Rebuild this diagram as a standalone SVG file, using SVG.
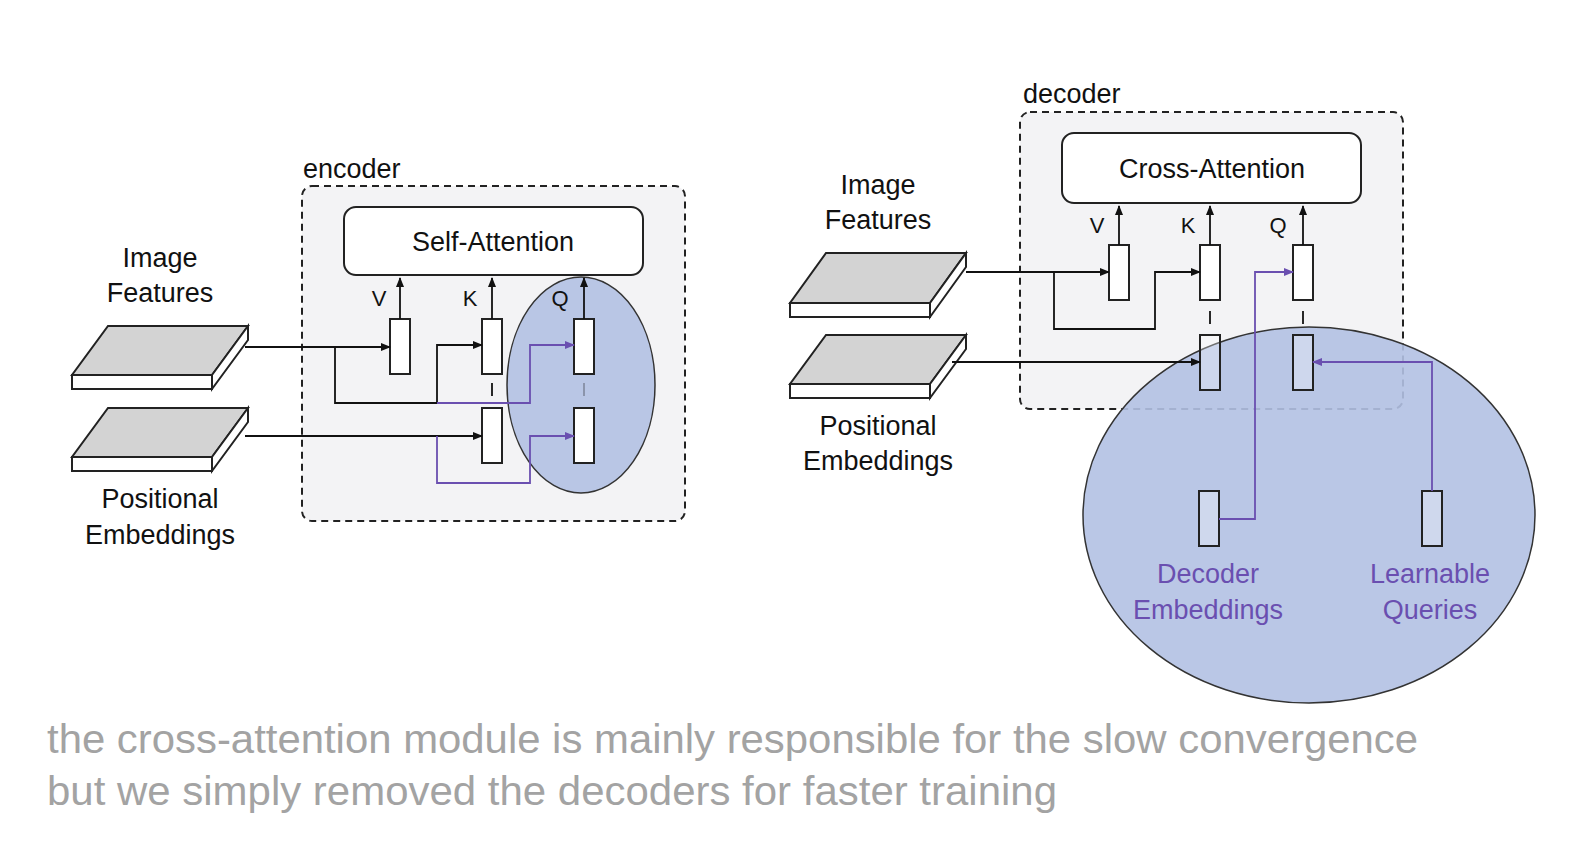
<svg xmlns="http://www.w3.org/2000/svg" width="1572" height="860" viewBox="0 0 1572 860">
<defs>
<marker id="ah" markerWidth="10" markerHeight="10" refX="9" refY="5" orient="auto" markerUnits="userSpaceOnUse"><path d="M0,1 L10,5 L0,9 Z" fill="#111"/></marker>
<marker id="ap" markerWidth="10" markerHeight="10" refX="9" refY="5" orient="auto" markerUnits="userSpaceOnUse"><path d="M0,1 L10,5 L0,9 Z" fill="#6a4fb0"/></marker>
<style>
text{font-family:"Liberation Sans",Arial,sans-serif;fill:#111}
.t{font-size:27px;text-anchor:middle}
.l{font-size:22px;text-anchor:middle}
.frame{fill:#f3f3f5;stroke:#222;stroke-width:2;stroke-dasharray:7,5}
.att{fill:#fff;stroke:#222;stroke-width:2}
.bar{fill:#fff;stroke:#222;stroke-width:2}
.ln{fill:none;stroke:#111;stroke-width:1.8}
.pl{fill:none;stroke:#6a4fb0;stroke-width:1.8}
.slabT{fill:#d3d3d3;stroke:#222;stroke-width:2}
.slabF{fill:#fff;stroke:#222;stroke-width:2}
.ell{fill:#b3c1e3;fill-opacity:0.9;stroke:#333;stroke-width:1.5}
.pt{fill:#6a4fb0;font-size:27px;text-anchor:middle}
.cap{fill:#a3a3a3;font-size:41px}
</style>
</defs>
<rect width="1572" height="860" fill="#fff"/>
<g id="encoder">
<rect class="frame" x="302" y="186" width="383" height="335" rx="10"/>
<text x="303" y="178" font-size="27">encoder</text>
</g>
<g id="self-attention"><rect class="att" x="344" y="207" width="299" height="68" rx="12"/><text class="t" x="493" y="251">Self-Attention</text></g>
<g id="enc-ellipse"><ellipse class="ell" cx="581" cy="385" rx="74" ry="108"/></g>
<g id="enc-image"><polygon class="slabT" points="108,326 248,326 212,375 72,375"/><polygon class="slabF" points="72,375 212,375 212,389 72,389"/><polygon class="slabF" points="212,375 248,326 248,340 212,389"/>
<text class="t" x="160" y="267">Image</text><text class="t" x="160" y="302">Features</text></g>
<g id="enc-pos"><polygon class="slabT" points="108,408 248,408 212,457 72,457"/><polygon class="slabF" points="72,457 212,457 212,471 72,471"/><polygon class="slabF" points="212,457 248,408 248,422 212,471"/>
<text class="t" x="160" y="508">Positional</text><text class="t" x="160" y="544">Embeddings</text></g>
<g id="enc-bars">
<rect class="bar" x="390" y="319" width="20" height="55"/><rect class="bar" x="482" y="319" width="20" height="55"/><rect class="bar" x="574" y="319" width="20" height="55"/>
<rect class="bar" x="482" y="408" width="20" height="55"/><rect class="bar" x="574" y="408" width="20" height="55"/>
<text class="l" x="379" y="306">V</text><text class="l" x="470" y="306">K</text><text class="l" x="560" y="306">Q</text>
</g>
<g id="decoder">
<rect class="frame" x="1020" y="112" width="383" height="297" rx="10"/>
<text x="1023" y="103" font-size="27">decoder</text>
</g>
<g id="cross-attention"><rect class="att" x="1062" y="133" width="299" height="70" rx="12"/><text class="t" x="1212" y="178">Cross-Attention</text></g>
<g id="dec-ellipse"><ellipse class="ell" cx="1309" cy="515" rx="226" ry="188"/></g>
<g id="dec-image"><polygon class="slabT" points="826,253 966,253 930,303 790,303"/><polygon class="slabF" points="790,303 930,303 930,317 790,317"/><polygon class="slabF" points="930,303 966,253 966,267 930,317"/>
<text class="t" x="878" y="194">Image</text><text class="t" x="878" y="229">Features</text></g>
<g id="dec-pos"><polygon class="slabT" points="826,335 966,335 930,384 790,384"/><polygon class="slabF" points="790,384 930,384 930,398 790,398"/><polygon class="slabF" points="930,384 966,335 966,349 930,398"/>
<text class="t" x="878" y="435">Positional</text><text class="t" x="878" y="470">Embeddings</text></g>
<g id="dec-bars">
<rect class="bar" x="1109" y="245" width="20" height="55"/><rect class="bar" x="1200" y="245" width="20" height="55"/><rect class="bar" x="1293" y="245" width="20" height="55"/>
<rect class="bar" x="1200" y="335" width="20" height="55" fill-opacity="0.3"/><rect class="bar" x="1293" y="335" width="20" height="55" fill-opacity="0.3"/>
<text class="l" x="1097" y="233">V</text><text class="l" x="1188" y="233">K</text><text class="l" x="1278" y="233">Q</text>
</g>
<g id="decoder-embeddings"><rect class="bar" x="1199" y="491" width="20" height="55" fill-opacity="0.3"/><text class="pt" x="1208" y="583">Decoder</text><text class="pt" x="1208" y="619">Embeddings</text></g>
<g id="learnable-queries"><rect class="bar" x="1422" y="491" width="20" height="55" fill-opacity="0.3"/><text class="pt" x="1430" y="583">Learnable</text><text class="pt" x="1430" y="619">Queries</text></g>
<g id="connectors">
<path class="ln" d="M400,319 V278" marker-end="url(#ah)"/><path class="ln" d="M492,319 V278" marker-end="url(#ah)"/><path class="ln" d="M584,319 V278" marker-end="url(#ah)"/>
<path class="ln" d="M245,347 H390" marker-end="url(#ah)"/>
<path class="ln" d="M335,347 V403 H437 V345 H482" marker-end="url(#ah)"/>
<path class="ln" d="M245,436 H482" marker-end="url(#ah)"/>
<path class="pl" d="M437,403 H530 V345 H574" marker-end="url(#ap)"/>
<path class="pl" d="M437,436 V483 H530 V436 H574" marker-end="url(#ap)"/>
<path class="ln" d="M492,383 V396"/><path class="ln" d="M584,383 V396" stroke-opacity="0.3"/>
<path class="ln" d="M1119,245 V206" marker-end="url(#ah)"/><path class="ln" d="M1210,245 V206" marker-end="url(#ah)"/><path class="ln" d="M1303,245 V206" marker-end="url(#ah)"/>
<path class="ln" d="M966,272 H1109" marker-end="url(#ah)"/>
<path class="ln" d="M1054,272 V329 H1155 V272 H1200" marker-end="url(#ah)"/>
<path class="ln" d="M952,362 H1200" marker-end="url(#ah)"/>
<path class="ln" d="M1210,311 V324"/><path class="ln" d="M1303,311 V324"/>
<path class="pl" d="M1219,519 H1255 V272 H1293" marker-end="url(#ap)"/>
<path class="pl" d="M1432,491 V362 H1313" marker-end="url(#ap)"/>
</g>
<text class="cap" x="47" y="753" textLength="1371" lengthAdjust="spacingAndGlyphs">the cross-attention module is mainly responsible for the slow convergence</text>
<text class="cap" x="47" y="805" textLength="1010" lengthAdjust="spacingAndGlyphs">but we simply removed the decoders for faster training</text>
</svg>
